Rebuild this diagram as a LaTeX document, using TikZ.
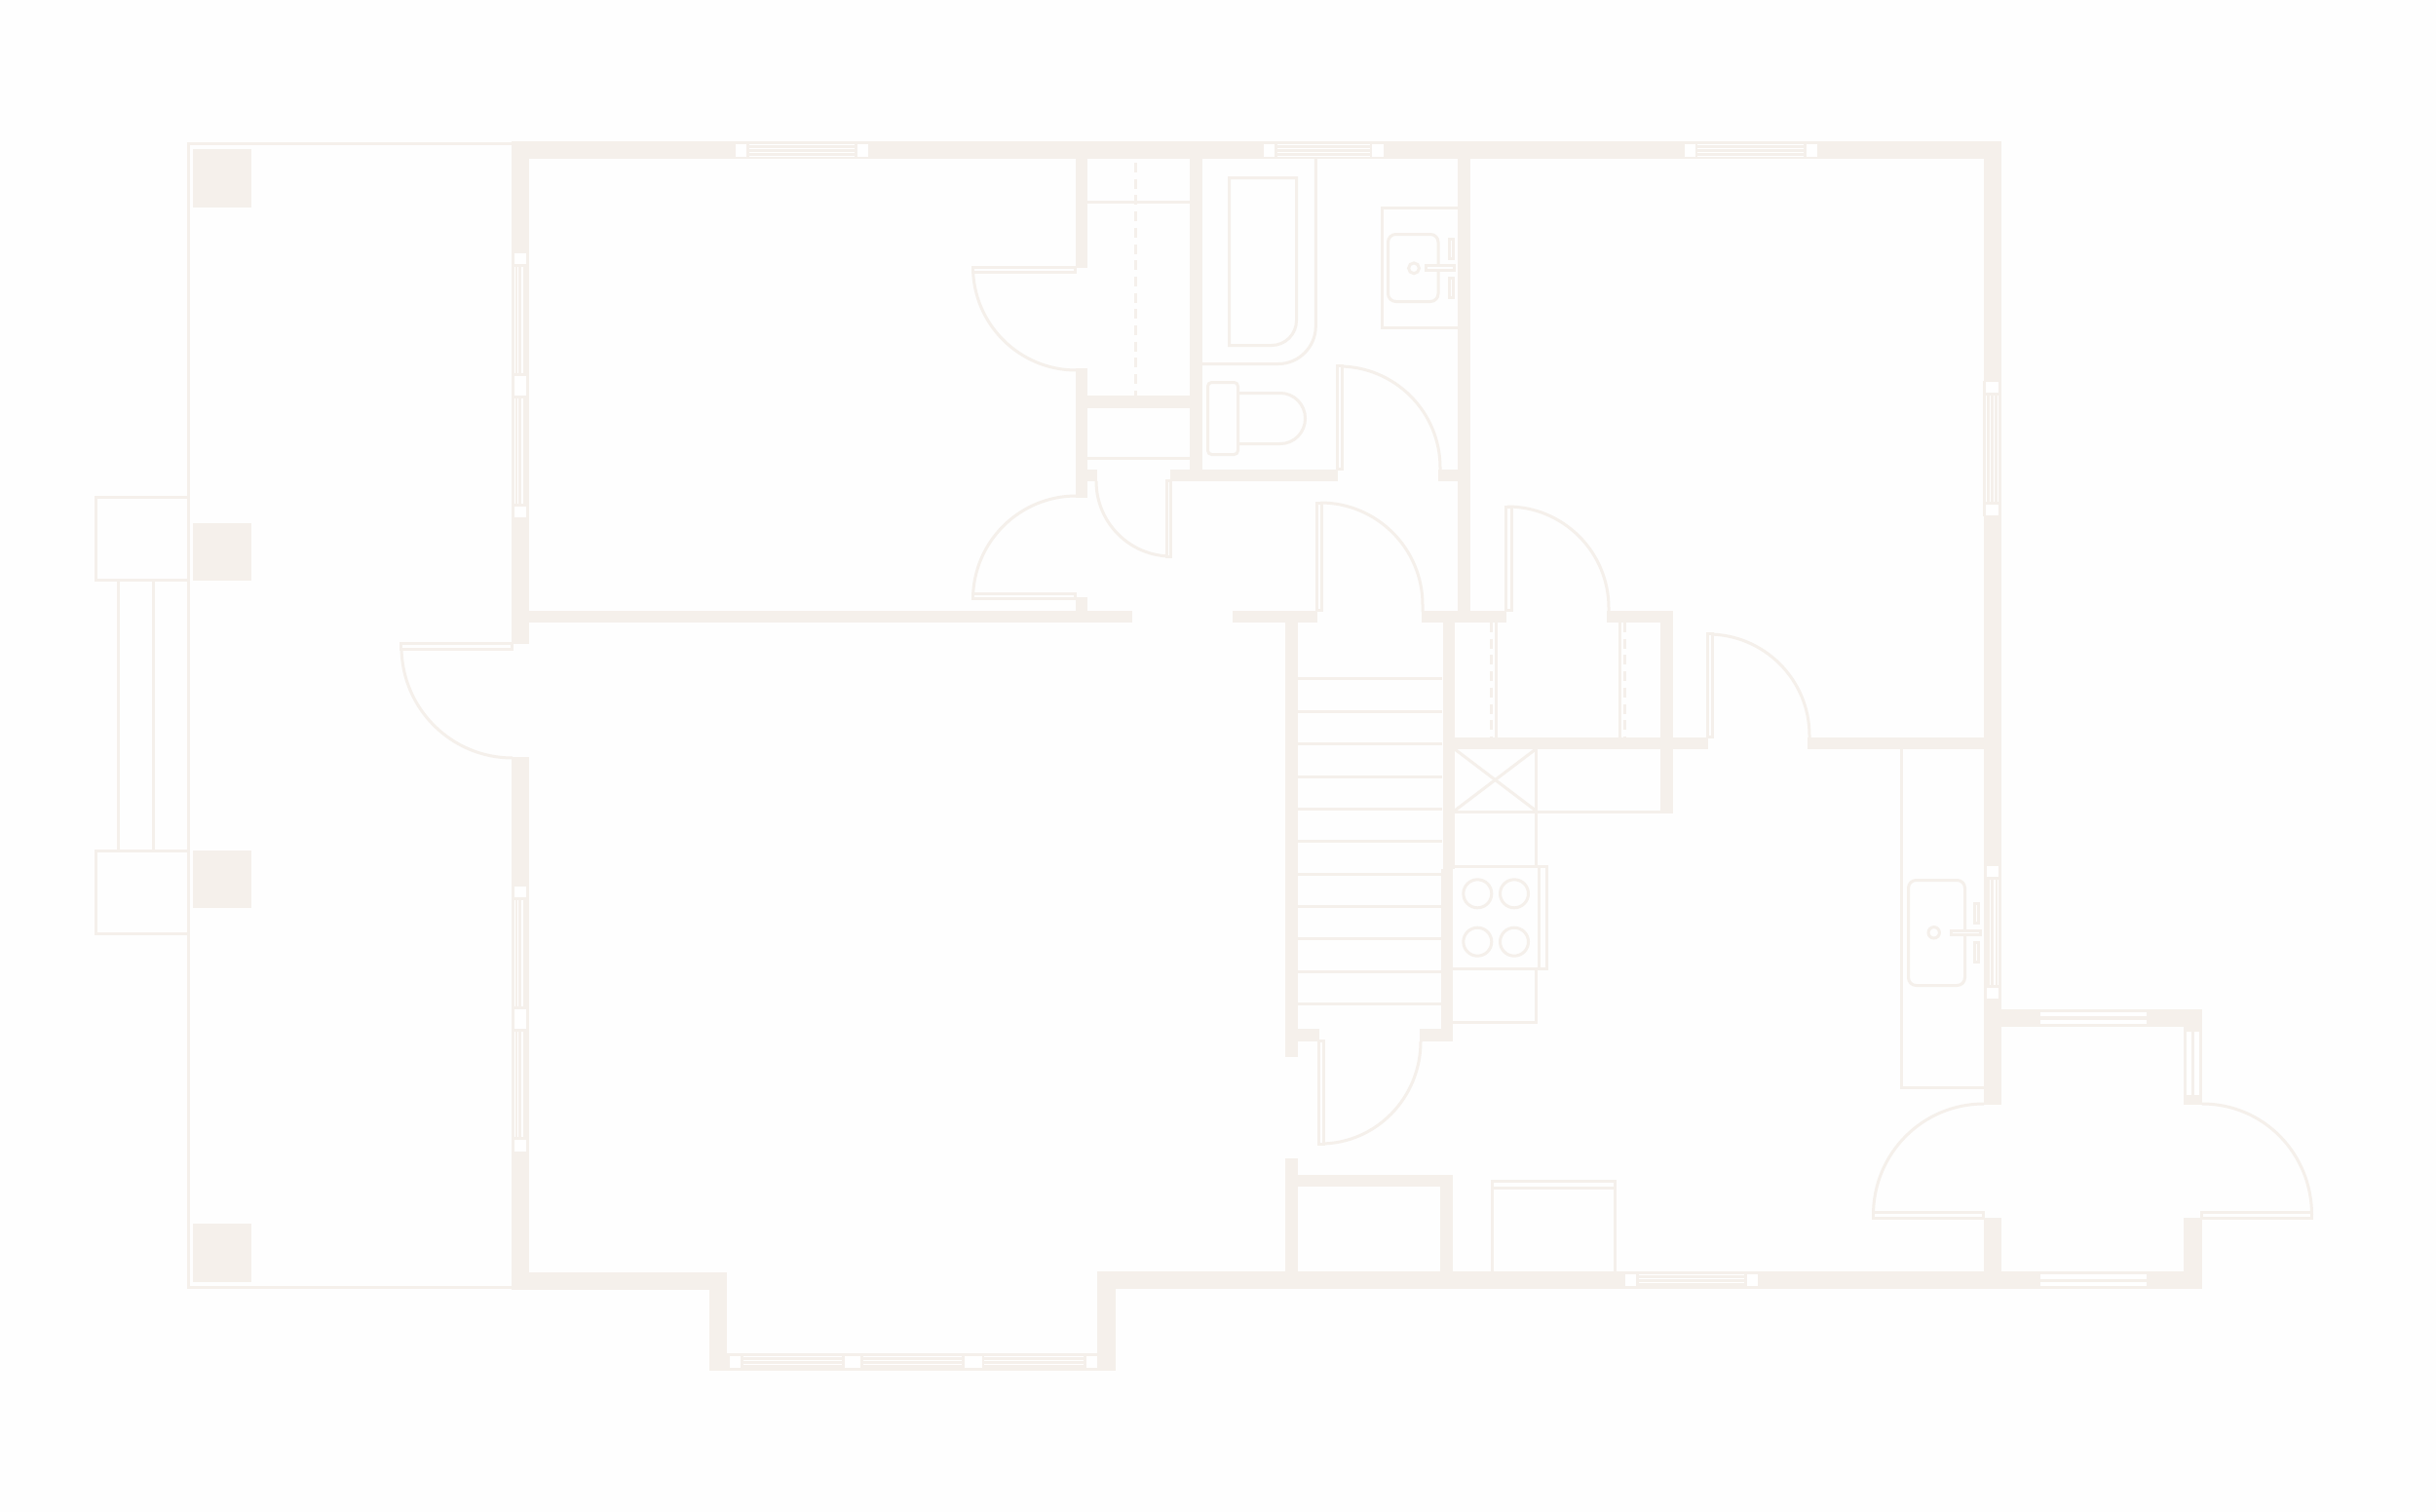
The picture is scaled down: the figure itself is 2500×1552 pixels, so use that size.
\documentclass[tikz,border=0pt]{standalone}
\definecolor{wallc}{HTML}{F5F0EB}
\definecolor{bgc}{HTML}{FEFEFE}
\tikzset{
  wall/.style={fill=wallc,draw=none},
  gap/.style={fill=white,draw=none},
  thinl/.style={draw=wallc,line width=3pt,line cap=butt},
  leaf/.style={draw=wallc,line width=3pt,fill=bgc},
  dashl/.style={draw=wallc,line width=3pt,dash pattern=on 10pt off 6.7pt},
}
\newcommand{\W}[4]{\fill[wall] (#1,#2) rectangle (#3,#4);}
\newcommand{\G}[4]{\fill[gap] (#1,#2) rectangle (#3,#4);}
\newcommand{\VW}[2]{% vertical window lines from y #1 to #2, left wall
  \fill[gap] (528,#1) rectangle (529,#2);\fill[gap] (531,#1) rectangle (532,#2);\fill[gap] (535,#1) rectangle (537,#2);}
\begin{document}
\begin{tikzpicture}[x=1pt,y=-1pt]
\useasboundingbox (0,0) rectangle (2500,1552);
\fill[bgc] (0,0) rectangle (2500,1552);

% ---- porch
\draw[thinl] (525,147.5) -- (193.5,147.5) -- (193.5,1321.5) -- (525,1321.5);
\fill[wallc] (198,153) rectangle (258,213);
\fill[wallc] (198,537) rectangle (258,596);
\fill[wallc] (198,873) rectangle (258,932);
\fill[wallc] (198,1256) rectangle (258,1316);
\draw[thinl] (193.5,510.5) -- (98.5,510.5) -- (98.5,595.5) -- (193.5,595.5);
\draw[thinl] (193.5,873.5) -- (98.5,873.5) -- (98.5,958.5) -- (193.5,958.5);
\draw[thinl] (121.5,597) -- (121.5,872);
\draw[thinl] (157.5,597) -- (157.5,872);

% ---- outer walls
\W{525}{145}{2054}{163}
\W{525}{145}{543}{661}
\W{525}{777}{543}{1324}
\W{525}{1306}{746}{1324}
\W{728}{1306}{746}{1407}
\W{728}{1389}{1145}{1407}
\W{1126}{1305}{1145}{1407}
\W{1126}{1305}{2260}{1323}
\W{2036}{145}{2054}{1134}
\W{2035}{391}{2036}{530}
\W{2036}{1250}{2054}{1323}
\W{2054}{1036}{2260}{1054}
\W{2241}{1036}{2260}{1134}
\W{2241}{1250}{2260}{1323}

% ---- inner walls
\W{543}{627}{1162}{639}
\W{1265}{627}{1352}{639}
\W{1459}{627}{1546}{639}
\W{1649}{627}{1717}{639}
\W{1704}{627}{1717}{835}
\W{1104}{163}{1116}{275}
\W{1104}{378}{1116}{511}
\W{1104}{613}{1116}{627}
\W{1221}{163}{1234}{494}
\W{1116}{406}{1221}{419}
\W{1116}{482}{1126}{494}
\W{1201}{482}{1373}{494}
\W{1476}{482}{1509}{494}
\W{1496}{163}{1509}{627}
\W{1319}{639}{1332}{1085}
\W{1481}{639}{1493}{892}
\W{1479}{892}{1491}{1069}
\W{1332}{1056}{1354}{1069}
\W{1457}{1056}{1491}{1069}
\W{1481}{757}{1753}{769}
\W{1855}{757}{2036}{769}
\W{1319}{1189}{1332}{1305}
\W{1319}{1206}{1491}{1218}
\W{1478}{1206}{1491}{1305}

% ---- left wall windows
\G{528}{260}{540}{271}\G{528}{386}{540}{406}\G{528}{520}{540}{531}
\VW{274}{383}\VW{409}{517}
\G{528}{910}{540}{921}\G{528}{1036}{540}{1056}\G{528}{1170}{540}{1182}
\VW{924}{1033}\VW{1059}{1167}

% ---- top wall windows
\G{755}{148}{766}{161}\G{880}{148}{891}{161}
\G{1297}{148}{1308}{161}\G{1408}{148}{1420}{161}
\G{1729}{148}{1740}{161}\G{1854}{148}{1865}{161}
\foreach \a/\b in {769/877,1311/1406,1742/1851}{
  \foreach \y in {148,152,156,160}{\fill[gap] (\a,\y) rectangle (\b,\y+1);}
}

% ---- bay windows
\G{749}{1392}{760}{1404}\G{867}{1392}{883}{1404}\G{990}{1392}{1008}{1404}\G{1115}{1392}{1126}{1404}
\foreach \a/\b in {763/864,886/987,1010/1112}{
  \foreach \y in {1392,1396,1400}{\fill[gap] (\a,\y) rectangle (\b,\y+1);}
}

% ---- bottom wall windows
\G{1668}{1308}{1679}{1320}\G{1793}{1308}{1804}{1320}
\foreach \y in {1308,1312,1316}{\fill[gap] (1682,\y) rectangle (1790,\y+1);}
\G{2094}{1308}{2203}{1312.5}\G{2094}{1316}{2203}{1320}

% ---- right wall windows
\G{2038}{392}{2051}{403}\G{2038}{518}{2051}{529}
\foreach \x in {2038,2042,2046,2050}{\fill[gap] (\x,406) rectangle (\x+1,515);}
\G{2039}{889}{2051}{900}\G{2039}{1014}{2051}{1025}
\fill[gap] (2042,903) rectangle (2043,1011);
\fill[gap] (2046,903) rectangle (2048,1011);
\fill[gap] (2050,903) rectangle (2051,1011);
% bump-out windows
\G{2094}{1039}{2203}{1043}\G{2094}{1047}{2203}{1051}
\G{2244}{1059}{2249}{1124}\G{2252}{1059}{2257}{1124}

% ---- closet lines
\draw[thinl] (1116,207.5) -- (1221,207.5);
\draw[thinl] (1116,470.5) -- (1221,470.5);
\draw[dashl] (1165.7,167) -- (1165.7,405.7);

% ---- door swings and leaves
\draw[thinl] (412,664) .. controls (412,727) and (463,778) .. (526,778);
\draw[leaf] (411.5,660.5) rectangle (525.5,666.5);
\draw[thinl] (998.5,274) .. controls (998.5,332.5) and (1046,380) .. (1104.5,380);
\draw[leaf] (998,274.5) rectangle (1103.5,279.5);
\draw[thinl] (998.5,615) .. controls (998.5,556.5) and (1046,509) .. (1104.5,509);
\draw[leaf] (998,609.5) rectangle (1103.5,614.5);
\draw[thinl] (1125,494) .. controls (1125,536.5) and (1159.5,571) .. (1202,571);
\draw[leaf] (1197.5,493.5) rectangle (1201.5,571);
\draw[thinl] (1374,376) .. controls (1431.4,376) and (1478,422.6) .. (1478,480) -- (1478,483);
\draw[leaf] (1372.5,375.5) rectangle (1377,481);
\draw[thinl] (1355,516) .. controls (1413,516) and (1460,563) .. (1460,621) -- (1460,628);
\draw[leaf] (1351.5,516.5) rectangle (1356.5,626);
\draw[thinl] (1547,520) .. controls (1604.4,520) and (1651,566.6) .. (1651,624) -- (1651,628);
\draw[leaf] (1545.5,520.5) rectangle (1551,626);
\draw[thinl] (1753,651) .. controls (1810.4,651) and (1857,697.6) .. (1857,755) -- (1857,758);
\draw[leaf] (1752.5,650.5) rectangle (1757,756);
\draw[thinl] (1355,1174) .. controls (1412,1174) and (1458,1127) .. (1458,1069);
\draw[leaf] (1353.5,1068.5) rectangle (1358.5,1174);
\draw[thinl] (1922.5,1247) .. controls (1922.5,1184) and (1973,1133) .. (2036,1133);
\draw[leaf] (1922.5,1244.5) rectangle (2035,1250);
\draw[thinl] (2260,1133) .. controls (2323,1133) and (2372.5,1184) .. (2372.5,1247);
\draw[leaf] (2259.5,1244.5) rectangle (2372.5,1250);

% ---- stairs
\foreach \y in {696.5,730.5,763.5,797,830.5,863.5,897.5,930.5,963.5,997.5,1030.5}{
  \draw[thinl] (1332,\y) -- (1480,\y);
}

% ---- closet by stairs
\draw[dashl] (1530.7,639) -- (1530.7,757);
\draw[thinl] (1535.5,639) -- (1535.5,757);
\draw[thinl] (1662.7,639) -- (1662.7,757);
\draw[dashl] (1667.5,639) -- (1667.5,757);

% ---- kitchen
\draw[thinl] (1493,769) -- (1576,832);
\draw[thinl] (1493,832) -- (1576,769);
\draw[thinl] (1576.7,769) -- (1576.7,888);
\draw[thinl] (1492,833.5) -- (1704,833.5);
\draw[thinl] (1491,889.5) -- (1587.5,889.5) -- (1587.5,994.5) -- (1491,994.5);
\draw[thinl] (1579.5,891) -- (1579.5,993);
\foreach \cx in {1516.3,1554}{\foreach \cy in {917.3,966.7}{
  \draw[thinl] (\cx,\cy) circle[radius=14.5pt];
}}
\draw[thinl] (1576.7,996) -- (1576.7,1049.5) -- (1491,1049.5);
% counter
\draw[thinl] (1951.5,769) -- (1951.5,1116.5) -- (2036,1116.5);
\draw[thinl,rounded corners=8pt] (1958.5,903.5) rectangle (2016.5,1011.5);
\draw[thinl] (1984.7,957.3) circle[radius=5.7pt];
\draw[leaf] (2002.5,955.5) rectangle (2032.5,959.5);
\draw[leaf] (2026.5,927.5) rectangle (2030.5,947.5);
\draw[leaf] (2026.5,967.5) rectangle (2030.5,987.5);
% fridge
\draw[thinl] (1531.5,1305) -- (1531.5,1212.5) -- (1657.5,1212.5) -- (1657.5,1305);
\draw[thinl] (1531.5,1219) -- (1657.5,1219);

% ---- bathroom
\draw[thinl] (1261.5,182.5) -- (1330.5,182.5) -- (1330.5,329) .. controls (1330.5,343) and (1319,354.5) .. (1305,354.5) -- (1261.5,354.5) -- cycle;
\draw[thinl] (1350.3,163) -- (1350.3,335) .. controls (1350.3,356) and (1333,373.5) .. (1312,373.5) -- (1234,373.5);
\draw[thinl,rounded corners=4pt] (1239.5,392.5) rectangle (1270.5,466.5);
\draw[thinl] (1272,403.5) -- (1314,403.5) .. controls (1328,403.5) and (1339.5,415) .. (1339.5,429.5) .. controls (1339.5,444) and (1328,455.5) .. (1314,455.5) -- (1272,455.5);
\draw[thinl] (1496,213.5) -- (1418.7,213.5) -- (1418.7,336.5) -- (1496,336.5);
\draw[thinl,rounded corners=8pt] (1424.5,240.5) rectangle (1476,309.5);
\draw[thinl] (1451,275.3) circle[radius=5.4pt];
\draw[leaf] (1463.5,272.5) rectangle (1492.5,277.5);
\draw[leaf] (1487.5,245.5) rectangle (1491,265.5);
\draw[leaf] (1487.5,285.5) rectangle (1491,305.5);
\end{tikzpicture}
\end{document}
